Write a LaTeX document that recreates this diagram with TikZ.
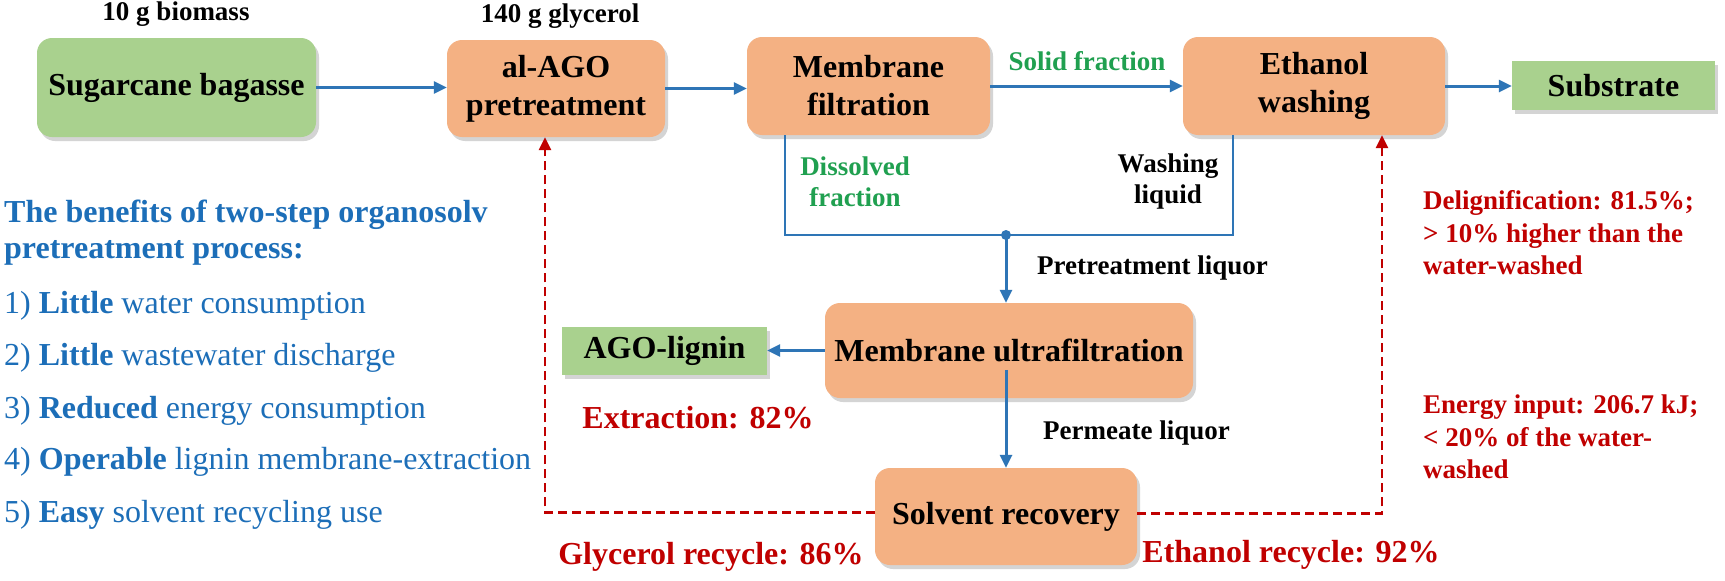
\documentclass[tikz,border=0pt]{standalone}
\usepackage{fontspec}
\setmainfont{Liberation Serif}
\usetikzlibrary{arrows.meta,shadows}
\definecolor{boxorange}{HTML}{F4B183}
\definecolor{boxgreen}{HTML}{A9D18E}
\definecolor{flowblue}{HTML}{2E75B6}
\definecolor{txtblue}{HTML}{1C6EB8}
\definecolor{txtgreen}{HTML}{20A050}
\definecolor{txtred}{HTML}{C00000}
\begin{document}
\begin{tikzpicture}[x=1pt,y=-1pt,
  boxshadow/.style={drop shadow={shadow xshift=3pt,shadow yshift=-4pt,opacity=0.28,fill=black!60}},
  proc/.style={fill=boxorange,rounded corners=15pt,align=center,inner sep=0pt,
    font=\fontsize{32}{38}\selectfont\bfseries,boxshadow},
  prod/.style={fill=boxgreen,align=center,inner sep=0pt,
    font=\fontsize{32}{38}\selectfont\bfseries,boxshadow},
  lbl/.style={font=\fontsize{27}{31}\selectfont\bfseries,align=center,inner sep=0pt},
  redlbl/.style={font=\fontsize{32}{38}\selectfont\bfseries,text=txtred,inner sep=0pt},
  rednote/.style={font=\fontsize{27}{32.5}\selectfont\bfseries,text=txtred,align=left,inner sep=0pt,anchor=west},
  benefit/.style={font=\fontsize{32}{38}\selectfont,text=txtblue,anchor=west,inner sep=0pt},
  flow/.style={draw=flowblue,line width=3pt,-{Triangle[length=13pt,width=12pt]}},
  pipe/.style={draw=flowblue,line width=2.5pt},
  recyc/.style={draw=txtred,line width=2.5pt,dash pattern=on 9pt off 5pt,-{Triangle[length=13pt,width=12pt]}}
]
\useasboundingbox[fill=white] (0,0) rectangle (1725,581);

% process boxes
\node[prod,rounded corners=15pt,minimum width=279pt,minimum height=99pt] (SB) at (176.5,87.5) {Sugarcane bagasse};
\node[proc,minimum width=218pt,minimum height=97pt] (AGO) at (556,88.5) {al-AGO\\pretreatment};
\node[proc,minimum width=243pt,minimum height=98pt] (MF) at (868.5,86) {Membrane\\filtration};
\node[proc,minimum width=262pt,minimum height=98pt] (ET) at (1314,86) {Ethanol\\washing};
\node[prod,minimum width=203pt,minimum height=49pt] (Sub) at (1613.5,85.5) {Substrate};
\node[proc,minimum width=368pt,minimum height=95pt] (MU) at (1009,350.5) {Membrane ultrafiltration};
\node[proc,minimum width=262pt,minimum height=97pt] (SR) at (1006,516.5) {Solvent recovery};
\node[prod,minimum width=205pt,minimum height=48pt] (Lig) at (664.5,351) {AGO-lignin};

% top labels
\node[lbl] (bio) at (176,14) {10 g biomass};
\node[lbl] (gly) at (560,16) {140 g glycerol};
\node[lbl,text=txtgreen] (solid) at (1087,61) {Solid fraction};
\node[lbl,text=txtgreen] (diss) at (855,182) {Dissolved\\fraction};
\node[lbl] (wash) at (1168,182) {Washing\\liquid};
\node[lbl,anchor=west] (pliq) at (1037,268) {Pretreatment liquor};
\node[lbl,anchor=west] (perm) at (1043,433) {Permeate liquor};

% flows
\draw[flow] (SB.east) -- (SB.east -| AGO.west);
\draw[flow] (AGO.east) -- (AGO.east -| MF.west);
\draw[flow] (MF.east) -- (MF.east -| ET.west);
\draw[flow] (ET.east) -- (ET.east -| Sub.west);
\coordinate (j) at (1006,235);
\draw[pipe] ([xshift=-83.5pt]MF.south) |- (j) -| ([xshift=-81pt]ET.south);
\fill[flowblue] (j) circle (5pt);
\draw[flow] (j) -- (j |- MU.north);
\draw[flow] (MU.west) -- (MU.west -| Lig.east);
\draw[flow] (SR.north -| j) ++(0,-98) -- (SR.north -| j);

% recycle loops
\draw[recyc] ([yshift=4pt]SR.west) -| ([xshift=-11pt]AGO.south);
\draw[recyc] ([yshift=3pt]SR.east) -| ([xshift=68pt]ET.south);

% red notes
\node[redlbl] (ext) at (698,418) {Extraction: 82\%};
\node[redlbl] (glyr) at (711,557) {Glycerol recycle: 86\%};
\node[redlbl] (etr) at (1291,555) {Ethanol recycle: 92\%};
\node[rednote] (delig) at (1423,233) {Delignification: 81.5\%;\\> 10\% higher than the\\water-washed};
\node[rednote] (energy) at (1423,437) {Energy input: 206.7 kJ;\\< 20\% of the water-\\washed};

% benefits
\node[benefit,font=\fontsize{32}{38}\selectfont\bfseries] (b0) at (4,215) {The benefits of two-step organosolv};
\node[benefit,font=\fontsize{32}{38}\selectfont\bfseries] (b1) at (4,253) {pretreatment process:};
\node[benefit] (b2) at (4,306) {1) \textbf{Little} water consumption};
\node[benefit] (b3) at (4,358) {2) \textbf{Little} wastewater discharge};
\node[benefit] (b4) at (4,411) {3) \textbf{Reduced} energy consumption};
\node[benefit] (b5) at (4,462) {4) \textbf{Operable} lignin membrane-extraction};
\node[benefit] (b6) at (4,515) {5) \textbf{Easy} solvent recycling use};
\end{tikzpicture}
\end{document}
